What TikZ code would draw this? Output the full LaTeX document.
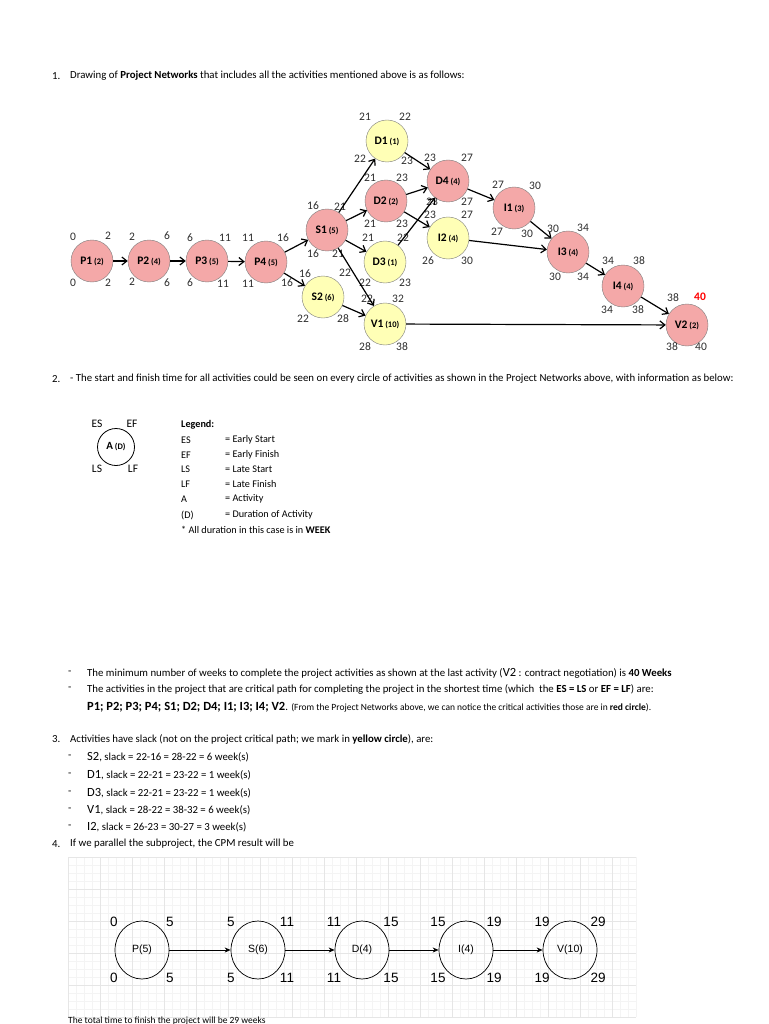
\documentclass[tikz,border=0pt]{standalone}
\usepackage{fontspec}
\setmainfont{Carlito}
\newfontfamily\drawiofont{Liberation Sans}
\usetikzlibrary{positioning, shapes.geometric, arrows.meta}

\definecolor{critred}{RGB}{244,168,168}
\definecolor{slackyellow}{RGB}{255,255,182}
\definecolor{rimgray}{RGB}{125,125,125}
\definecolor{timegray}{RGB}{45,45,45}
\definecolor{gridminor}{RGB}{244,244,244}
\definecolor{gridmajor}{RGB}{230,230,230}

\tikzset{
  crit/.style = {circle, draw=rimgray, fill=critred, minimum size=42pt, inner sep=0pt,
                 font=\fontsize{11.5}{10}\selectfont\bfseries},
  slack/.style = {crit, fill=slackyellow},
  tm/.style = {inner sep=0pt, text=timegray, font=\fontsize{11.5}{10}\selectfont},
  link/.style = {-{Straight Barb[length=5pt,width=8pt]}, line width=1.2pt},
  txt/.style = {anchor=west, inner sep=0pt, font=\fontsize{10.8}{12}\selectfont},
  lgd/.style = {txt, font=\fontsize{10.2}{12}\selectfont},
  phase/.style = {ellipse, draw, line width=0.7pt, minimum width=54pt, minimum height=58pt,
                  inner sep=0pt, font=\drawiofont\fontsize{10.5}{10}\selectfont},
  ptm/.style = {inner sep=0pt, font=\drawiofont\fontsize{13.5}{13}\selectfont},
  flow/.style = {-{Stealth[length=6pt,width=5pt]}, line width=0.7pt},
}
\newcommand{\act}[2]{#1\,{\fontsize{8.5}{8}\selectfont (#2)}}

\begin{document}
\begin{tikzpicture}[x=1pt, y=-1pt]
\fill[white] (0,0) rectangle (768,1024);
\useasboundingbox (0,0) rectangle (768,1024);
\clip (0,0) rectangle (768,1024);

% part 1
\node[txt] (n1) at (52,76) {1.};
\node[txt] (h1) at (70,76) {Drawing of \textbf{Project Networks} that includes all the activities mentioned above is as follows:};

% activities
\node[crit] (p1) at (92,261) {\act{P1}{2}};
\node[crit] (p2) at (149,261) {\act{P2}{4}};
\node[crit] (p3) at (207,261) {\act{P3}{5}};
\node[crit] (p4) at (266,262) {\act{P4}{5}};
\node[crit] (s1) at (327,230) {\act{S1}{5}};
\node[slack] (s2) at (323,297) {\act{S2}{6}};
\node[slack] (d1) at (387,141) {\act{D1}{1}};
\node[crit] (d2) at (386,201) {\act{D2}{2}};
\node[slack] (d3) at (385,262) {\act{D3}{1}};
\node[slack] (v1) at (385,324) {\act{V1}{10}};
\node[crit] (d4) at (448,181) {\act{D4}{4}};
\node[slack] (i2) at (448,238) {\act{I2}{4}};
\node[crit] (i1) at (514,208) {\act{I1}{3}};
\node[crit] (i3) at (568,252) {\act{I3}{4}};
\node[crit] (i4) at (623,286) {\act{I4}{4}};
\node[crit] (v2) at (687,325) {\act{V2}{2}};

% ES EF / LS LF
\node[tm] (p1es) at (73,237) {0}; \node[tm] (p1ef) at (108,236) {2}; \node[tm] (p1ls) at (73,283) {0}; \node[tm] (p1lf) at (108,283) {2};
\node[tm] (p2es) at (132,237) {2}; \node[tm] (p2ef) at (167,236) {6}; \node[tm] (p2ls) at (132,282) {2}; \node[tm] (p2lf) at (167,283) {6};
\node[tm] (p3es) at (190,238) {6}; \node[tm] (p3ef) at (225,238) {11}; \node[tm] (p3ls) at (190,283) {6}; \node[tm] (p3lf) at (223,284) {11};
\node[tm] (p4es) at (248,238) {11}; \node[tm] (p4ef) at (283,238) {16}; \node[tm] (p4ls) at (248,284) {11}; \node[tm] (p4lf) at (287,283) {16};
\node[tm] (s1es) at (313,206) {16}; \node[tm] (s1ef) at (340,207) {21}; \node[tm] (s1ls) at (313,254) {16}; \node[tm] (s1lf) at (338,254) {21};
\node[tm] (s2es) at (305,274) {16}; \node[tm] (s2ef) at (345,273) {22}; \node[tm] (s2ls) at (303,319) {22}; \node[tm] (s2lf) at (343,319) {28};
\node[tm] (d1es) at (365,117) {21}; \node[tm] (d1ef) at (405,117) {22}; \node[tm] (d1ls) at (360,159) {22}; \node[tm] (d1lf) at (407,161) {23};
\node[tm] (d2es) at (370,178) {21}; \node[tm] (d2ef) at (402,178) {23}; \node[tm] (d2ls) at (370,224) {21}; \node[tm] (d2lf) at (402,224) {23};
\node[tm] (d3es) at (368,238) {21}; \node[tm] (d3ef) at (403,238) {22}; \node[tm] (d3ls) at (365,283) {22}; \node[tm] (d3lf) at (405,283) {23};
\node[tm] (v1es) at (367,299) {22}; \node[tm] (v1ef) at (398,299) {32}; \node[tm] (v1ls) at (365,347) {28}; \node[tm] (v1lf) at (402,347) {38};
\node[tm] (d4es) at (430,158) {23}; \node[tm] (d4ef) at (467,158) {27}; \node[tm] (d4ls) at (432,202) {23}; \node[tm] (d4lf) at (467,202) {27};
\node[tm] (i2es) at (430,215) {23}; \node[tm] (i2ef) at (467,215) {27}; \node[tm] (i2ls) at (428,261) {26}; \node[tm] (i2lf) at (467,261) {30};
\node[tm] (i1es) at (498,185) {27}; \node[tm] (i1ef) at (535,186) {30}; \node[tm] (i1ls) at (497,232) {27}; \node[tm] (i1lf) at (527,234) {30};
\node[tm] (i3es) at (553,229) {30}; \node[tm] (i3ef) at (583,228) {34}; \node[tm] (i3ls) at (555,277) {30}; \node[tm] (i3lf) at (583,277) {34};
\node[tm] (i4es) at (608,261) {34}; \node[tm] (i4ef) at (639,261) {38}; \node[tm] (i4ls) at (607,310) {34}; \node[tm] (i4lf) at (638,310) {38};
\node[tm] (v2es) at (673,298) {38}; \node[tm, text=red, font=\fontsize{11.5}{10}\selectfont\bfseries] (v2ef) at (700,297) {40};
\node[tm] (v2ls) at (672,347) {38}; \node[tm] (v2lf) at (701,347) {40};

% links
\draw[link] (p1) -- (p2);
\draw[link] (p2) -- (p3);
\draw[link] (p3) -- (p4);
\draw[link] (p4) -- (s1);
\draw[link] (p4) -- (s2);
\draw[link] (s1) -- (d1);
\draw[link] (s1) -- (d2);
\draw[link] (s1) -- (d3);
\draw[link] (s1) -- (v1);
\draw[link] (s2) -- (v1);
\draw[link] (d1) -- (d4);
\draw[link] (d2) -- (d4);
\draw[link] (d3) -- (d4);
\draw[link] (d2) -- (i2);
\draw[link] (d4) -- (i1);
\draw[link] (i1) -- (i3);
\draw[link] (i2) -- (i3);
\draw[link] (i3) -- (i4);
\draw[link] (i4) -- (v2);
\draw[link] (v1) -- (v2);

% part 2 and legend
\node[txt] (n2) at (52,379) {2.};
\node[txt] (h2) at (70,379) {- The start and finish time for all activities could be seen on every circle of activities as shown in the Project Networks above, with information as below:};
\node[circle, draw, line width=0.8pt, minimum size=37pt, inner sep=0pt, font=\fontsize{11}{10}\selectfont\bfseries] (lg) at (116,447) {\act{A}{D}};
\node[tm, text=black] (lges) at (97,424) {ES}; \node[tm, text=black] (lgef) at (132,424) {EF};
\node[tm, text=black] (lgls) at (97,469) {LS}; \node[tm, text=black] (lglf) at (133,469) {LF};
\node[lgd, font=\fontsize{10.2}{12}\selectfont\bfseries] (lgt) at (181,425) {Legend:};
\node[lgd] (k1) at (181,440) {ES}; \node[lgd] (e1) at (225,440) {= Early Start};
\node[lgd] (k2) at (181,455) {EF}; \node[lgd] (e2) at (225,455) {= Early Finish};
\node[lgd] (k3) at (181,469) {LS}; \node[lgd] (e3) at (225,469) {= Late Start};
\node[lgd] (k4) at (181,484) {LF}; \node[lgd] (e4) at (225,484) {= Late Finish};
\node[lgd] (k5) at (181,499) {A}; \node[lgd] (e5) at (225,499) {= Activity};
\node[lgd] (k6) at (181,515) {(D)}; \node[lgd] (e6) at (225,515) {= Duration of Activity};
\node[lgd] (k7) at (181,530) {* All duration in this case is in \textbf{WEEK}};

% findings
\node[txt] (b1) at (68,673) {-}; \node[txt] (t1) at (87,673) {The minimum number of weeks to complete the project activities as shown at the last activity ({\fontsize{12.5}{12}\selectfont V2} : contract negotiation) is \textbf{40 Weeks}};
\node[txt] (b2) at (68,689) {-}; \node[txt] (t2) at (87,689) {The activities in the project that are critical path for completing the project in the shortest time (which\ \ the \textbf{ES = LS} or \textbf{EF = LF}) are:};
\node[txt] (t3) at (87,707) {{\fontsize{12.5}{12}\selectfont\bfseries P1; P2; P3; P4; S1; D2; D4; I1; I3; I4; V2}. {\fontsize{9.5}{11}\selectfont (From the Project Networks above, we can notice the critical activities those are in \textbf{red circle}).}};

\node[txt] (n3) at (52,739) {3.};
\node[txt] (h3) at (70,739) {Activities have slack (not on the project critical path; we mark in \textbf{yellow circle}), are:};
\node[txt] (b4) at (68,757) {-}; \node[txt] (t4) at (87,757) {{\fontsize{12.5}{12}\selectfont S2}, slack = 22-16 = 28-22 = 6 week(s)};
\node[txt] (b5) at (68,775) {-}; \node[txt] (t5) at (87,775) {{\fontsize{12.5}{12}\selectfont D1}, slack = 22-21 = 23-22 = 1 week(s)};
\node[txt] (b6) at (68,793) {-}; \node[txt] (t6) at (87,793) {{\fontsize{12.5}{12}\selectfont D3}, slack = 22-21 = 23-22 = 1 week(s)};
\node[txt] (b7) at (68,810) {-}; \node[txt] (t7) at (87,810) {{\fontsize{12.5}{12}\selectfont V1}, slack = 28-22 = 38-32 = 6 week(s)};
\node[txt] (b8) at (68,827) {-}; \node[txt] (t8) at (87,827) {{\fontsize{12.5}{12}\selectfont I2}, slack = 26-23 = 30-27 = 3 week(s)};
\node[txt] (n4) at (52,844) {4.};
\node[txt] (h4) at (70,844) {If we parallel the subproject, the CPM result will be};

% parallel result on grid
\foreach \gx in {0,8,...,568} \draw[gridminor, line width=0.5pt] (68+\gx,857) -- (68+\gx,1017);
\foreach \gy in {0,8,...,160} \draw[gridminor, line width=0.5pt] (68,857+\gy) -- (636,857+\gy);
\foreach \gx in {0,32,...,544} \draw[gridmajor, line width=0.6pt] (68+\gx,857) -- (68+\gx,1017);
\foreach \gy in {0,32,...,160} \draw[gridmajor, line width=0.6pt] (68,857+\gy) -- (636,857+\gy);
\node[phase] (pp) at (142,950) {P(5)};
\node[phase] (sp) at (258,950) {S(6)};
\node[phase] (dp) at (362,950) {D(4)};
\node[phase] (ip) at (466,950) {I(4)};
\node[phase] (vp) at (570,950) {V(10)};
\node[ptm] (ppa) at (114,922) {0}; \node[ptm] (ppb) at (170,922) {5}; \node[ptm] (ppc) at (114,978) {0}; \node[ptm] (ppd) at (170,978) {5};
\node[ptm] (spa) at (231,922) {5}; \node[ptm] (spb) at (287,922) {11}; \node[ptm] (spc) at (231,978) {5}; \node[ptm] (spd) at (287,978) {11};
\node[ptm] (dpa) at (334,922) {11}; \node[ptm] (dpb) at (391,922) {15}; \node[ptm] (dpc) at (334,978) {11}; \node[ptm] (dpd) at (391,978) {15};
\node[ptm] (ipa) at (438,922) {15}; \node[ptm] (ipb) at (494,922) {19}; \node[ptm] (ipc) at (438,978) {15}; \node[ptm] (ipd) at (494,978) {19};
\node[ptm] (vpa) at (542,922) {19}; \node[ptm] (vpb) at (598,922) {29}; \node[ptm] (vpc) at (542,978) {19}; \node[ptm] (vpd) at (598,978) {29};
\draw[flow] (pp) -- (sp);
\draw[flow] (sp) -- (dp);
\draw[flow] (dp) -- (ip);
\draw[flow] (ip) -- (vp);
\node[txt, font=\fontsize{9.5}{11}\selectfont] (tot) at (68,1021) {The total time to finish the project will be 29 weeks};
\end{tikzpicture}
\end{document}
